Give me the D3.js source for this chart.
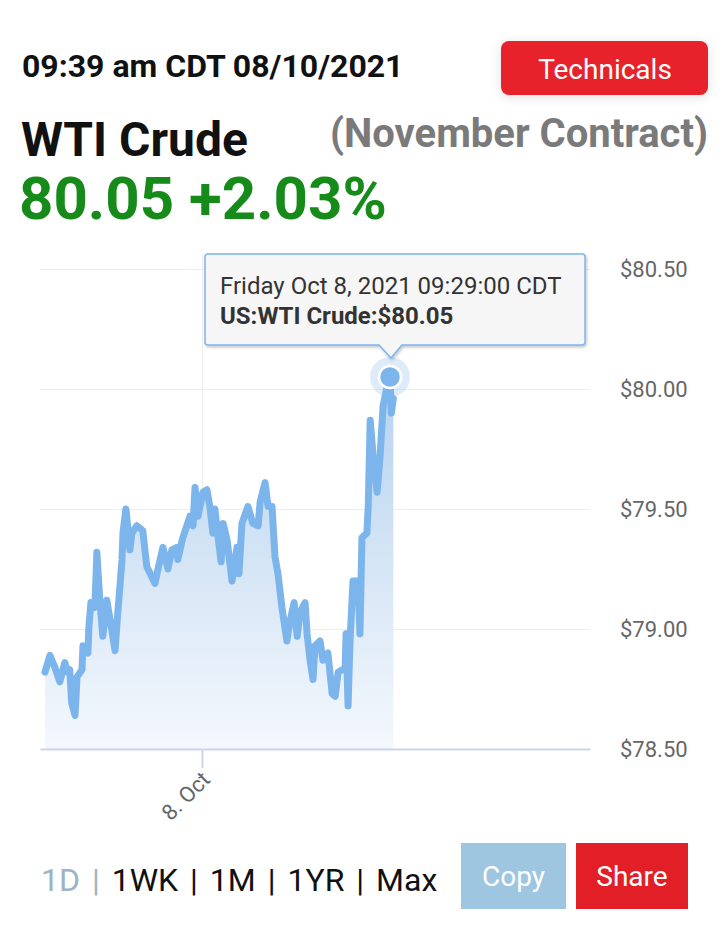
<!DOCTYPE html>
<html>
<head>
<meta charset="utf-8">
<script src="https://cdn.jsdelivr.net/npm/d3@7"></script>
<style>
  html, body { margin: 0; padding: 0; background: #fff; }
  svg { display: block; font-family: Roboto, "Noto Sans", sans-serif; }
</style>
</head>
<body>
<svg id="chart" width="726" height="940"></svg>
<script>
// ---- Data ----
const times = [
  "2021-10-07 16:05","2021-10-07 16:20","2021-10-07 16:35","2021-10-07 16:50","2021-10-07 17:05",
  "2021-10-07 17:14","2021-10-07 17:20","2021-10-07 17:26","2021-10-07 17:36","2021-10-07 17:42",
  "2021-10-07 17:57","2021-10-07 18:00","2021-10-07 18:15","2021-10-07 18:18","2021-10-07 18:24",
  "2021-10-07 18:36","2021-10-07 18:42","2021-10-07 18:51","2021-10-07 19:00","2021-10-07 19:12",
  "2021-10-07 19:28","2021-10-07 19:37","2021-10-07 19:46","2021-10-07 19:52","2021-10-07 19:58",
  "2021-10-07 20:01","2021-10-07 20:10","2021-10-07 20:22","2021-10-07 20:28","2021-10-07 20:43",
  "2021-10-07 21:01","2021-10-07 21:13","2021-10-07 21:38","2021-10-07 21:47","2021-10-07 22:02",
  "2021-10-07 22:17","2021-10-07 22:29","2021-10-07 22:44","2021-10-07 22:47","2021-10-07 23:02",
  "2021-10-07 23:24","2021-10-07 23:33","2021-10-07 23:39","2021-10-07 23:48",
  "2021-10-08 00:03","2021-10-08 00:15","2021-10-08 00:24","2021-10-08 00:33","2021-10-08 00:39",
  "2021-10-08 00:48","2021-10-08 00:58","2021-10-08 01:04","2021-10-08 01:16","2021-10-08 01:31",
  "2021-10-08 01:46","2021-10-08 01:52","2021-10-08 02:01","2021-10-08 02:19","2021-10-08 02:34",
  "2021-10-08 02:50","2021-10-08 02:56","2021-10-08 03:11","2021-10-08 03:20","2021-10-08 03:32",
  "2021-10-08 03:41","2021-10-08 03:50","2021-10-08 04:02","2021-10-08 04:17","2021-10-08 04:26",
  "2021-10-08 04:39","2021-10-08 04:48","2021-10-08 04:57","2021-10-08 05:12","2021-10-08 05:18",
  "2021-10-08 05:27","2021-10-08 05:36","2021-10-08 05:42","2021-10-08 05:57","2021-10-08 06:06",
  "2021-10-08 06:21","2021-10-08 06:34","2021-10-08 06:43","2021-10-08 06:52","2021-10-08 07:04",
  "2021-10-08 07:13","2021-10-08 07:16","2021-10-08 07:22","2021-10-08 07:28","2021-10-08 07:37",
  "2021-10-08 07:52","2021-10-08 07:58","2021-10-08 08:04","2021-10-08 08:19","2021-10-08 08:23",
  "2021-10-08 08:29","2021-10-08 08:38","2021-10-08 08:50","2021-10-08 08:59","2021-10-08 09:08",
  "2021-10-08 09:20","2021-10-08 09:29","2021-10-08 09:33","2021-10-08 09:39"
];
const prices = [
  78.82,78.89,78.84,78.78,78.86,
  78.82,78.83,78.69,78.64,78.80,
  78.83,78.93,78.90,79.01,79.11,
  79.09,79.32,79.12,78.97,79.12,
  78.99,78.91,79.08,79.18,79.29,
  79.40,79.50,79.33,79.40,79.43,
  79.41,79.26,79.19,79.25,79.34,
  79.25,79.33,79.34,79.29,79.38,
  79.47,79.43,79.59,79.47,
  79.57,79.58,79.51,79.40,79.50,
  79.39,79.28,79.44,79.37,79.20,
  79.34,79.23,79.44,79.51,79.44,
  79.43,79.53,79.61,79.51,79.51,
  79.30,79.23,79.09,78.95,79.03,
  79.11,78.97,79.07,79.11,78.98,
  78.87,78.79,78.93,78.95,78.87,
  78.90,78.73,78.72,78.82,78.83,
  78.83,78.98,78.68,78.95,79.20,
  79.20,78.98,79.38,79.40,79.51,
  79.87,79.72,79.57,79.72,79.93,
  80.01,80.05,79.90,79.96
];
const yTicks = [78.5, 79.0, 79.5, 80.0, 80.5];
const xTicks = ["2021-10-08 00:00"];
const xDomain = ["2021-10-07 15:50", "2021-10-08 19:34"];
const hoverTime = "2021-10-08 09:29";
const tooltipDate = "Friday Oct 8, 2021 09:29:00 CDT";
const seriesName = "US:WTI Crude";
const headerTime = "09:39 am CDT 08/10/2021";
const title = "WTI Crude";
const subtitle = "(November Contract)";
const lastPrice = "80.05";
const changePct = "+2.03%";
const ranges = ["1D", "1WK", "1M", "1YR", "Max"];

// ---- Setup ----
const parse = d3.timeParse("%Y-%m-%d %H:%M");
const data = times.map((t, i) => ({ t: parse(t), v: prices[i] }));
const svg = d3.select("#chart");

const x = d3.scaleTime().domain(xDomain.map(parse)).range([40, 590]);
const y = d3.scaleLinear().domain([78.5, 80.5]).range([749, 269]);

const defs = svg.append("defs");
const grad = defs.append("linearGradient").attr("id", "areaGrad")
  .attr("x1", 0).attr("y1", 0).attr("x2", 0).attr("y2", 1);
grad.append("stop").attr("offset", "0%").attr("stop-color", "#b6d2ee");
grad.append("stop").attr("offset", "100%").attr("stop-color", "#f4f8fd");

const btnShadow = defs.append("filter").attr("id", "btnShadow")
  .attr("x", "-30%").attr("y", "-60%").attr("width", "160%").attr("height", "220%");
btnShadow.append("feDropShadow").attr("dx", 0).attr("dy", 2).attr("stdDeviation", 6)
  .attr("flood-color", "#000").attr("flood-opacity", 0.12);

const tipShadow = defs.append("filter").attr("id", "tipShadow")
  .attr("x", "-10%").attr("y", "-20%").attr("width", "120%").attr("height", "150%");
tipShadow.append("feDropShadow").attr("dx", 1).attr("dy", 1.5).attr("stdDeviation", 1.5)
  .attr("flood-color", "#000").attr("flood-opacity", 0.25);

// ---- Header ----
svg.append("text").attr("x", 22).attr("y", 77)
  .attr("font-size", 32).attr("font-weight", 700).attr("fill", "#111")
  .text(headerTime);

const btn = svg.append("g");
btn.append("rect").attr("x", 501).attr("y", 41).attr("width", 207).attr("height", 54)
  .attr("rx", 8).attr("fill", "#e8202a").attr("filter", "url(#btnShadow)");
btn.append("text").attr("x", 605).attr("y", 79).attr("text-anchor", "middle")
  .attr("font-size", 28).attr("fill", "#fff").text("Technicals");

svg.append("text").attr("x", 21).attr("y", 156)
  .attr("font-size", 48).attr("font-weight", 700).attr("fill", "#111").text(title);
svg.append("text").attr("x", 708).attr("y", 147).attr("text-anchor", "end")
  .attr("font-size", 40).attr("font-weight", 700).attr("fill", "#7a7a7a").text(subtitle);

svg.append("text").attr("x", 19).attr("y", 219)
  .attr("font-size", 60).attr("font-weight", 700).attr("fill", "#168b1a")
  .text(lastPrice + " " + changePct);

// ---- Grid ----
const grid = svg.append("g");
grid.selectAll("line.h").data(yTicks.slice(1)).join("line")
  .attr("x1", 40).attr("x2", 590)
  .attr("y1", d => Math.round(y(d)) + 0.5).attr("y2", d => Math.round(y(d)) + 0.5)
  .attr("stroke", "#eeeeee").attr("stroke-width", 1);
grid.selectAll("line.v").data(xTicks.map(parse)).join("line")
  .attr("x1", d => Math.round(x(d)) + 0.5).attr("x2", d => Math.round(x(d)) + 0.5)
  .attr("y1", 255).attr("y2", 749)
  .attr("stroke", "#eeeeee").attr("stroke-width", 1);

// ---- Area + line ----
const area = d3.area().x(d => x(d.t)).y0(y(78.5)).y1(d => y(d.v));
const line = d3.line().x(d => x(d.t)).y(d => y(d.v));
svg.append("path").datum(data).attr("d", area).attr("fill", "url(#areaGrad)");
svg.append("path").datum(data).attr("d", line).attr("fill", "none")
  .attr("stroke", "#7cb5ec").attr("stroke-width", 7)
  .attr("stroke-linejoin", "round").attr("stroke-linecap", "round");

// ---- Axes ----
const xAxis = d3.axisBottom(x).tickValues(xTicks.map(parse))
  .tickFormat(d3.timeFormat("%-d. %b")).tickSizeInner(19).tickSizeOuter(0);
const gx = svg.append("g").attr("transform", `translate(0,${y(78.5)})`).call(xAxis);
gx.select(".domain").attr("stroke", "#ccd6eb").attr("stroke-width", 2);
gx.selectAll(".tick line").attr("stroke", "#ccd6eb").attr("stroke-width", 2);
gx.selectAll(".tick text")
  .attr("font-family", "Roboto, sans-serif").attr("font-size", 22).attr("fill", "#666")
  .attr("text-anchor", "end").attr("dy", 0).attr("y", 0)
  .attr("transform", "translate(9,32) rotate(-45)");

const yAxis = d3.axisRight(y).tickValues(yTicks)
  .tickFormat(d => "$" + d.toFixed(2)).tickSize(0).tickPadding(30);
const gy = svg.append("g").attr("transform", "translate(590,0)").call(yAxis);
gy.select(".domain").remove();
gy.selectAll(".tick text")
  .attr("font-family", "Roboto, sans-serif").attr("font-size", 22).attr("fill", "#666");

// ---- Hover marker + tooltip ----
const hp = data.find(d => +d.t === +parse(hoverTime));
const mx = x(hp.t), my = y(hp.v);
svg.append("circle").attr("cx", mx).attr("cy", my).attr("r", 20)
  .attr("fill", "#7cb5ec").attr("opacity", 0.25);
svg.append("circle").attr("cx", mx).attr("cy", my).attr("r", 11)
  .attr("fill", "#7cb5ec").attr("stroke", "#fff").attr("stroke-width", 2.5);

const bx0 = mx - 185, bx1 = mx + 195, by0 = 254, by1 = 345, tipY = my - 19;
const tipPath = `M${bx0 + 3},${by0} H${bx1 - 3} Q${bx1},${by0} ${bx1},${by0 + 3} V${by1 - 3}
  Q${bx1},${by1} ${bx1 - 3},${by1} H${mx + 12} L${mx + 1},${tipY} L${mx - 11},${by1}
  H${bx0 + 3} Q${bx0},${by1} ${bx0},${by1 - 3} V${by0 + 3} Q${bx0},${by0} ${bx0 + 3},${by0} Z`;
svg.append("path").attr("d", tipPath).attr("fill", "#f7f7f7").attr("fill-opacity", 0.95)
  .attr("stroke", "#7cb5ec").attr("stroke-width", 1.5).attr("filter", "url(#tipShadow)");
svg.append("text").attr("x", bx0 + 15).attr("y", 294)
  .attr("font-size", 24).attr("fill", "#333").text(tooltipDate);
svg.append("text").attr("x", bx0 + 15).attr("y", 324)
  .attr("font-size", 24).attr("font-weight", 700).attr("fill", "#333")
  .text(seriesName + ":$" + hp.v.toFixed(2));

// ---- Bottom controls ----
const nav = svg.append("text").attr("x", 41).attr("y", 891)
  .attr("font-size", 32).attr("word-spacing", 4);
ranges.forEach((r, i) => {
  const col = i === 0 ? "#9bb4c4" : "#111";
  nav.append("tspan").attr("fill", col).text(r);
  if (i < ranges.length - 1) nav.append("tspan").attr("fill", col).text(" | ");
});

svg.append("rect").attr("x", 461).attr("y", 843).attr("width", 105).attr("height", 66)
  .attr("fill", "#9ec6e0");
svg.append("text").attr("x", 513.5).attr("y", 886).attr("text-anchor", "middle")
  .attr("font-size", 28).attr("fill", "#fff").text("Copy");
svg.append("rect").attr("x", 576).attr("y", 843).attr("width", 112).attr("height", 66)
  .attr("fill", "#e21f26");
svg.append("text").attr("x", 632).attr("y", 886).attr("text-anchor", "middle")
  .attr("font-size", 28).attr("fill", "#fff").text("Share");
</script>
</body>
</html>
